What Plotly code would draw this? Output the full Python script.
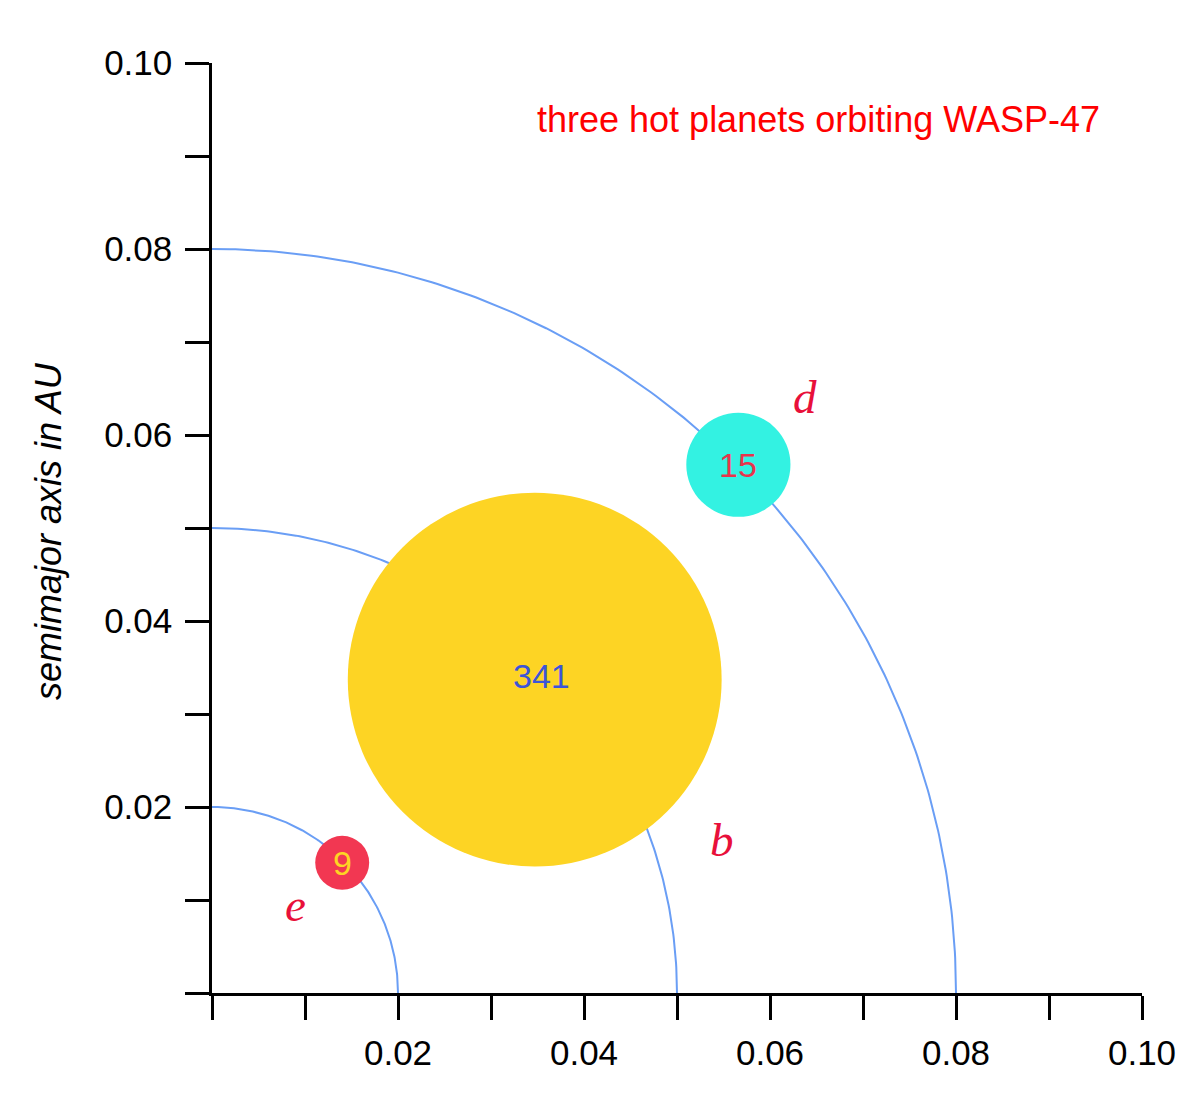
import numpy as np
import plotly.graph_objects as go

# ---- data ----
orbit_radii = [0.02, 0.05, 0.08]
planet_names = ["e", "b", "d"]
planet_x = [0.0140, 0.0347, 0.0566]
planet_y = [0.0140, 0.0337, 0.0568]
planet_r = [0.0029, 0.0201, 0.0056]
planet_mass = ["9", "341", "15"]
planet_fill = ["#f23752", "#fdd424", "#33f2e2"]
mass_text_color = ["#fdd424", "#3c54d8", "#e8344c"]
mass_text_x = [0.0140, 0.0354, 0.0566]
mass_text_y = [0.0140, 0.0341, 0.0568]
label_x = [0.0090, 0.0548, 0.0638]
label_y = [0.0095, 0.0165, 0.0641]
tick_vals = [0, 0.01, 0.02, 0.03, 0.04, 0.05, 0.06, 0.07, 0.08, 0.09, 0.10]
tick_text = ["", "", "0.02", "", "0.04", "", "0.06", "", "0.08", "", "0.10"]
title_text = "three hot planets orbiting WASP-47"
y_title = "semimajor axis in AU"

fig = go.Figure()

theta = np.linspace(0, np.pi / 2, 200)
for a in orbit_radii:
    fig.add_trace(go.Scatter(x=a * np.cos(theta), y=a * np.sin(theta), mode="lines",
                             line=dict(color="#6a9ef5", width=2), hoverinfo="skip",
                             showlegend=False))

for i in range(len(planet_names)):
    fig.add_shape(type="circle", xref="x", yref="y",
                  x0=planet_x[i] - planet_r[i], x1=planet_x[i] + planet_r[i],
                  y0=planet_y[i] - planet_r[i], y1=planet_y[i] + planet_r[i],
                  fillcolor=planet_fill[i], line=dict(width=0), layer="above")
    fig.add_annotation(x=mass_text_x[i], y=mass_text_y[i], text=planet_mass[i], showarrow=False,
                       font=dict(family="Liberation Sans, Arial", size=34, color=mass_text_color[i]))
    fig.add_annotation(x=label_x[i], y=label_y[i], text="<i>" + planet_names[i] + "</i>",
                       showarrow=False,
                       font=dict(family="Liberation Serif, Times New Roman", size=47, color="#e8103a"))

fig.add_annotation(x=0.0652, y=0.0939, xref="x", yref="y", text=title_text, showarrow=False,
                   xanchor="center", yanchor="middle",
                   font=dict(family="Liberation Sans, Arial", size=36, color="#ff0000"))
fig.add_annotation(x=(48 - 212) / 930, y=(993 - 531) / 930, xref="paper", yref="paper",
                   xanchor="center", yanchor="middle",
                   text="<i>" + y_title + "</i>", textangle=-90, showarrow=False,
                   font=dict(family="Liberation Sans, Arial", size=36, color="#000000"))

axis_common = dict(range=[0, 0.1], tickvals=tick_vals, ticktext=tick_text, showgrid=False,
                   zeroline=False, showline=True, linecolor="#000000", linewidth=2.5,
                   ticks="outside", ticklen=24, tickwidth=2.5, tickcolor="#000000",
                   tickfont=dict(family="Liberation Sans, Arial", size=35, color="#000000"))

fig.update_layout(
    width=1200, height=1109,
    margin=dict(l=204, r=66, t=55, b=124),
    paper_bgcolor="white", plot_bgcolor="white",
    xaxis=dict(**axis_common, ticklabelstandoff=3),
    yaxis=dict(**axis_common, ticklabelstandoff=6),
    showlegend=False,
)

fig.write_html("out.html")
